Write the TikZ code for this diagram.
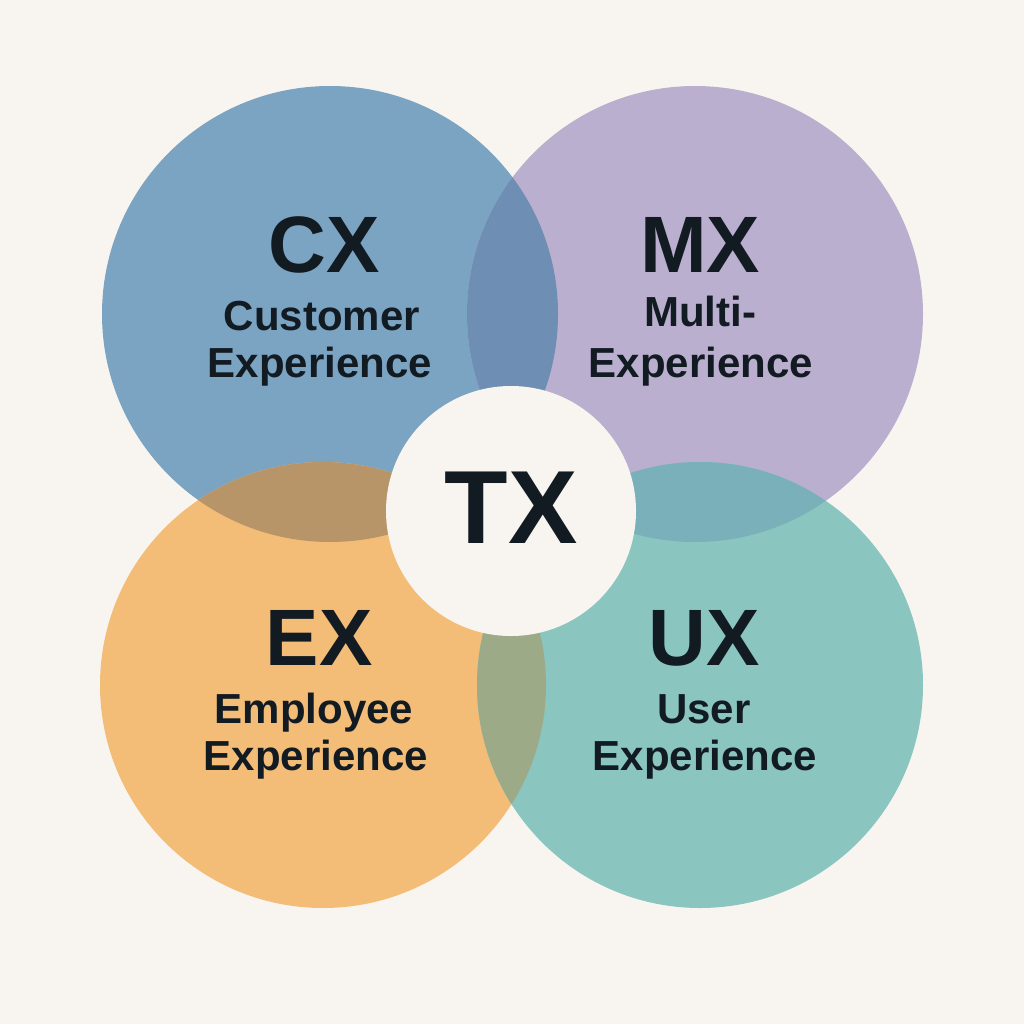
\documentclass[tikz,border=0pt]{standalone}
\usepackage{fontspec}
\setmainfont{Liberation Sans}
\definecolor{bg}{HTML}{F8F5F0}
\definecolor{cxc}{HTML}{7BA3C2}
\definecolor{mxc}{HTML}{BAAFCE}
\definecolor{exc}{HTML}{F3BD77}
\definecolor{uxc}{HTML}{8AC5C0}
\definecolor{cxmx}{HTML}{6E8EB3}
\definecolor{cxex}{HTML}{B89568}
\definecolor{exux}{HTML}{9DAA88}
\definecolor{mxux}{HTML}{79B0B9}
\definecolor{ink}{HTML}{121A22}
\tikzset{
  big/.style={font=\fontsize{80}{80}\selectfont\bfseries, text=ink, anchor=base, inner sep=0pt},
  sub/.style={font=\fontsize{42}{42}\selectfont\bfseries, text=ink, anchor=base, inner sep=0pt},
  huge/.style={font=\fontsize{104}{104}\selectfont\bfseries, text=ink, anchor=base, inner sep=0pt},
}
\begin{document}
\begin{tikzpicture}[x=1pt,y=-1pt]
\fill[bg] (0,0) rectangle (1024,1024);
\useasboundingbox (0,0) rectangle (1024,1024);
\coordinate (ccx) at (330,314);
\coordinate (cmx) at (695,314);
\coordinate (cex) at (323,685);
\coordinate (cux) at (700,685);
\fill[cxc] (ccx) circle (228);
\fill[mxc] (cmx) circle (228);
\fill[exc] (cex) circle (223);
\fill[uxc] (cux) circle (223);
\begin{scope}\clip (ccx) circle (228); \fill[cxmx] (cmx) circle (228); \end{scope}
\begin{scope}\clip (ccx) circle (228); \fill[cxex] (cex) circle (223); \end{scope}
\begin{scope}\clip (cex) circle (223); \fill[exux] (cux) circle (223); \end{scope}
\begin{scope}\clip (cmx) circle (228); \fill[mxux] (cux) circle (223); \end{scope}
\fill[bg] (511,511) circle (125);
\node[big] (cx) at (324,272) {CX};
\node[sub] (cx1) at (322,330) {Customer};
\node[sub] (cx2) at (320,377) {Experience};
\node[big] (mx) at (700,272) {MX};
\node[sub] (mx1) at (700,326) {Multi-};
\node[sub] (mx2) at (701,377) {Experience};
\node[big] (ex) at (319,665) {EX};
\node[sub] (ex1) at (314,723) {Employee};
\node[sub] (ex2) at (316,770) {Experience};
\node[big] (ux) at (704,665) {UX};
\node[sub] (ux1) at (704,723) {User};
\node[sub] (ux2) at (705,770) {Experience};
\node[huge] (tx) at (511,543) {TX};
\end{tikzpicture}
\end{document}
